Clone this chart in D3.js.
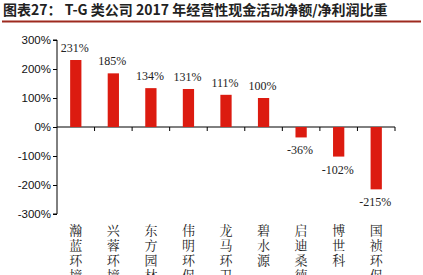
<!DOCTYPE html>
<html lang="zh">
<meta charset="UTF-8">
<script src="https://d3js.org/d3.v7.min.js"></script>
<style>
  body { margin: 0; background: #fff; }
</style>
<body>
<div id="chart"></div>
<script>
// chart data
var companies = ["瀚蓝环境", "兴蓉环境", "东方园林", "伟明环保", "龙马环卫", "碧水源", "启迪桑德", "博世科", "国祯环保"];
var ratios = [231, 185, 134, 131, 111, 100, -36, -102, -215];
var yTicks = [300, 200, 100, 0, -100, -200, -300];
var title = "图表27：  T-G 类公司 2017 年经营性现金活动净额/净利润比重";

var W = 423, H = 275;
var svg = d3.select("#chart").append("svg")
  .attr("width", W).attr("height", H);

// title + rule
svg.append("text")
  .attr("x", 3).attr("y", 15)
  .style("font-family", "'Noto Sans CJK SC', sans-serif")
  .style("font-weight", "bold")
  .style("font-size", "14px")
  .style("fill", "#222")
  .text(title);
svg.append("line")
  .attr("x1", 2).attr("x2", 421).attr("y1", 21.5).attr("y2", 21.5)
  .style("stroke", "#9e2a1f").style("stroke-width", 2);

var x = d3.scaleBand().domain(companies).range([57, 395]).paddingInner(0.7).paddingOuter(0.35);
var y = d3.scaleLinear().domain([-300, 300]).range([214, 40]);

// y axis
var yAxis = svg.append("g")
  .attr("transform", "translate(57,0)")
  .call(d3.axisLeft(y).tickValues(yTicks).tickSize(4).tickFormat(function(d) { return d + "%"; }));
yAxis.select(".domain").style("stroke", "#000").attr("d", "M-4," + y(300) + "H0V" + y(-300) + "H-4");
yAxis.selectAll("text")
  .style("font-family", "'Liberation Sans', Arial, sans-serif")
  .style("font-size", "11.5px")
  .style("fill", "#111")
  .attr("x", -6);

// x baseline with ticks at category borders
var step = (395 - 57) / companies.length;
var xg = svg.append("g");
xg.append("line")
  .attr("x1", 57).attr("x2", 395).attr("y1", y(0)).attr("y2", y(0))
  .style("stroke", "#000");
xg.selectAll("line.tk")
  .data(d3.range(1, companies.length + 1))
  .enter().append("line")
  .attr("class", "tk")
  .attr("x1", function(i) { return 57 + i * step; })
  .attr("x2", function(i) { return 57 + i * step; })
  .attr("y1", y(0)).attr("y2", y(0) + 4)
  .style("stroke", "#000");

// bars
svg.append("g").selectAll("rect")
  .data(ratios)
  .enter().append("rect")
  .attr("x", function(d, i) { return x(companies[i]); })
  .attr("width", x.bandwidth())
  .attr("y", function(d) { return d >= 0 ? y(d) : y(0); })
  .attr("height", function(d) { return Math.abs(y(d) - y(0)); })
  .style("fill", "#dc1b10");

// value labels
svg.append("g").selectAll("text")
  .data(ratios)
  .enter().append("text")
  .attr("x", function(d, i) { return x(companies[i]) + x.bandwidth() / 2 - 1; })
  .attr("y", function(d) { return d >= 0 ? y(d) - 8 : y(d) + 17; })
  .attr("text-anchor", "middle")
  .style("font-family", "'Liberation Serif', serif")
  .style("font-size", "12px")
  .style("fill", "#222")
  .text(function(d) { return d + "%"; });

// vertical category labels, one character per line
var cat = svg.append("g").selectAll("g")
  .data(companies)
  .enter().append("g");
cat.each(function(name) {
  var g = d3.select(this);
  name.split("").forEach(function(ch, k) {
    g.append("text")
      .attr("x", x(name) + x.bandwidth() / 2)
      .attr("y", 235 + k * 15)
      .attr("text-anchor", "middle")
      .style("font-family", "'Noto Serif CJK SC', 'Noto Sans CJK SC', serif")
      .style("font-size", "13px")
      .style("fill", "#222")
      .text(ch);
  });
});
</script>
</body>
</html>
